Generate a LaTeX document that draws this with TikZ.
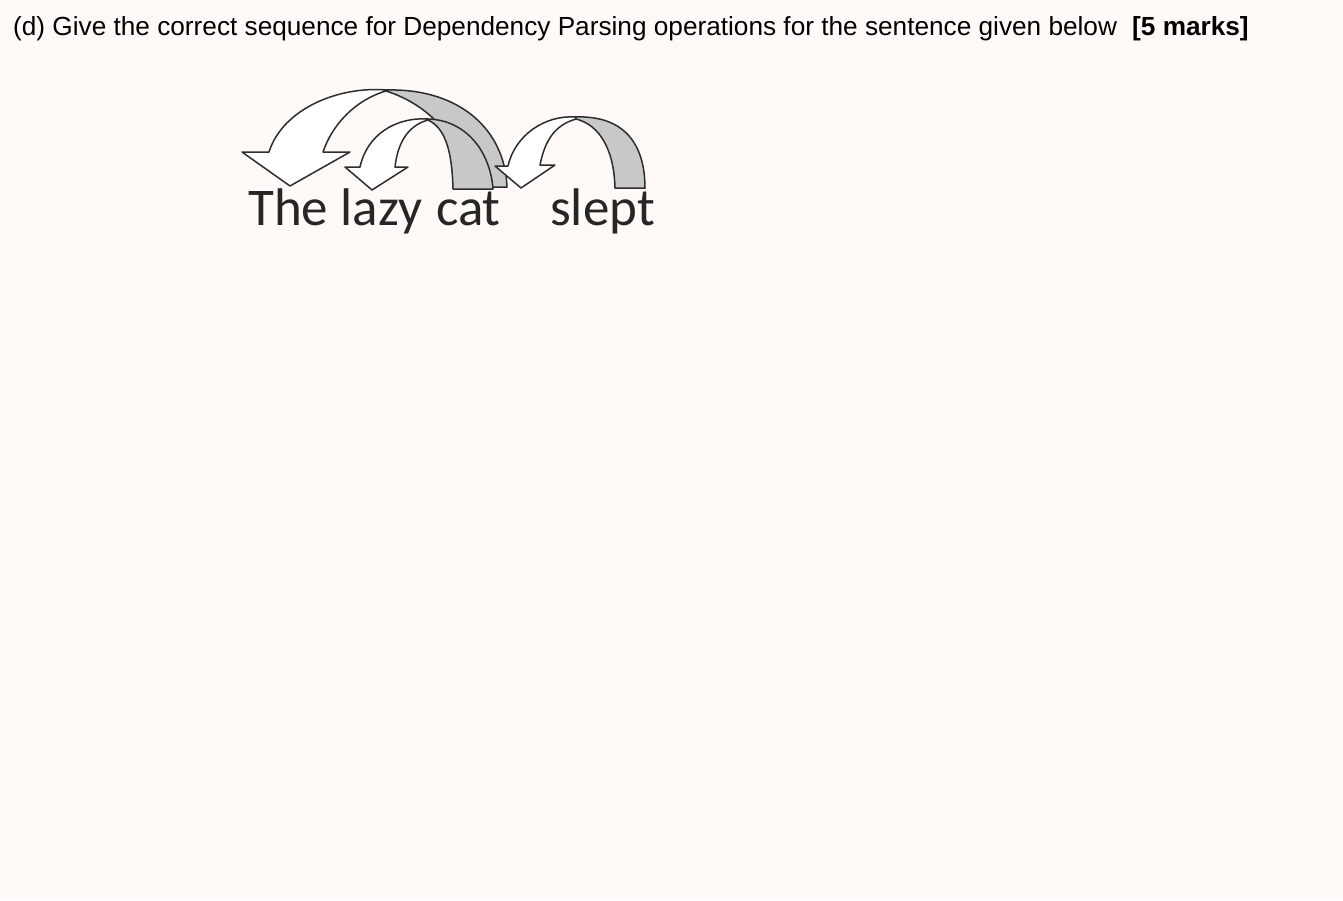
\documentclass[tikz,border=0pt]{standalone}
\usepackage{fontspec}
\setmainfont{Liberation Sans}
\newfontfamily\wordfont{Carlito}
\usepackage{tikz}
\usetikzlibrary{positioning}
\definecolor{pagebg}{RGB}{255, 250, 247}
\definecolor{outlinegray}{RGB}{45, 45, 45}
\definecolor{backgray}{RGB}{200, 200, 200}
\definecolor{wordgray}{RGB}{38, 38, 38}

\begin{document}
\begin{tikzpicture}[x=1pt, y=-1pt,
    frontband/.style={fill=white, draw=outlinegray, line width=1.5pt, line join=round},
    backband/.style={fill=backgray, draw=outlinegray, line width=1.5pt, line join=round},
    word/.style={inner sep=0pt, text=wordgray, font=\wordfont\fontsize{53}{60}\selectfont}]
            % Page
            \fill[pagebg] (0, 0) rectangle (1343, 900);
            \useasboundingbox (0, 0) rectangle (1343, 900);

            % Question line
            \node[anchor=base west, inner sep=0pt, font=\fontsize{26.2}{31}\selectfont] (question) at (13, 35)
                {(d) Give the correct sequence for Dependency Parsing operations for the sentence given below\hspace{15pt}\textbf{[5 marks]}};

            % cat -> The
            \draw[backband] (386, 90) .. controls (460, 88) and (505, 130) .. (507, 187)
                -- (467, 187) .. controls (462, 140) and (430, 105) .. (386, 91) -- cycle;
            \draw[frontband] (386, 90) .. controls (340, 86) and (283, 108) .. (269, 152)
                -- (242, 152) -- (290, 186) -- (350, 152) -- (323, 152)
                .. controls (332, 125) and (355, 100) .. (386, 91) -- cycle;

            % cat -> lazy
            \draw[backband] (428, 119) .. controls (465, 120) and (490, 150) .. (493, 189)
                -- (453, 189) .. controls (452, 150) and (445, 128) .. (428, 120) -- cycle;
            \draw[frontband] (428, 119) .. controls (395, 117) and (367, 135) .. (360, 167)
                -- (345, 167) -- (372, 190) -- (408, 167) -- (395, 167)
                .. controls (398, 140) and (410, 125) .. (428, 120) -- cycle;

            % slept -> cat
            \draw[backband] (575, 117) .. controls (625, 115) and (645, 145) .. (645, 188)
                -- (615, 188) .. controls (614, 150) and (600, 125) .. (576, 119) -- cycle;
            \draw[frontband] (575, 117) .. controls (545, 115) and (515, 135) .. (508, 166)
                -- (495, 166) -- (521, 188) -- (555, 165) -- (540, 165)
                .. controls (545, 140) and (555, 125) .. (576, 119) -- cycle;

            % Sentence
            \node[word, anchor=base west] (the) at (248, 225) {The};
            \node[word, base right=12pt of the] (lazy) {lazy};
            \node[word, base right=13pt of lazy] (cat) {cat};
            \node[word, anchor=base west] (slept) at (550, 225) {slept};
        \end{tikzpicture}
\end{document}
